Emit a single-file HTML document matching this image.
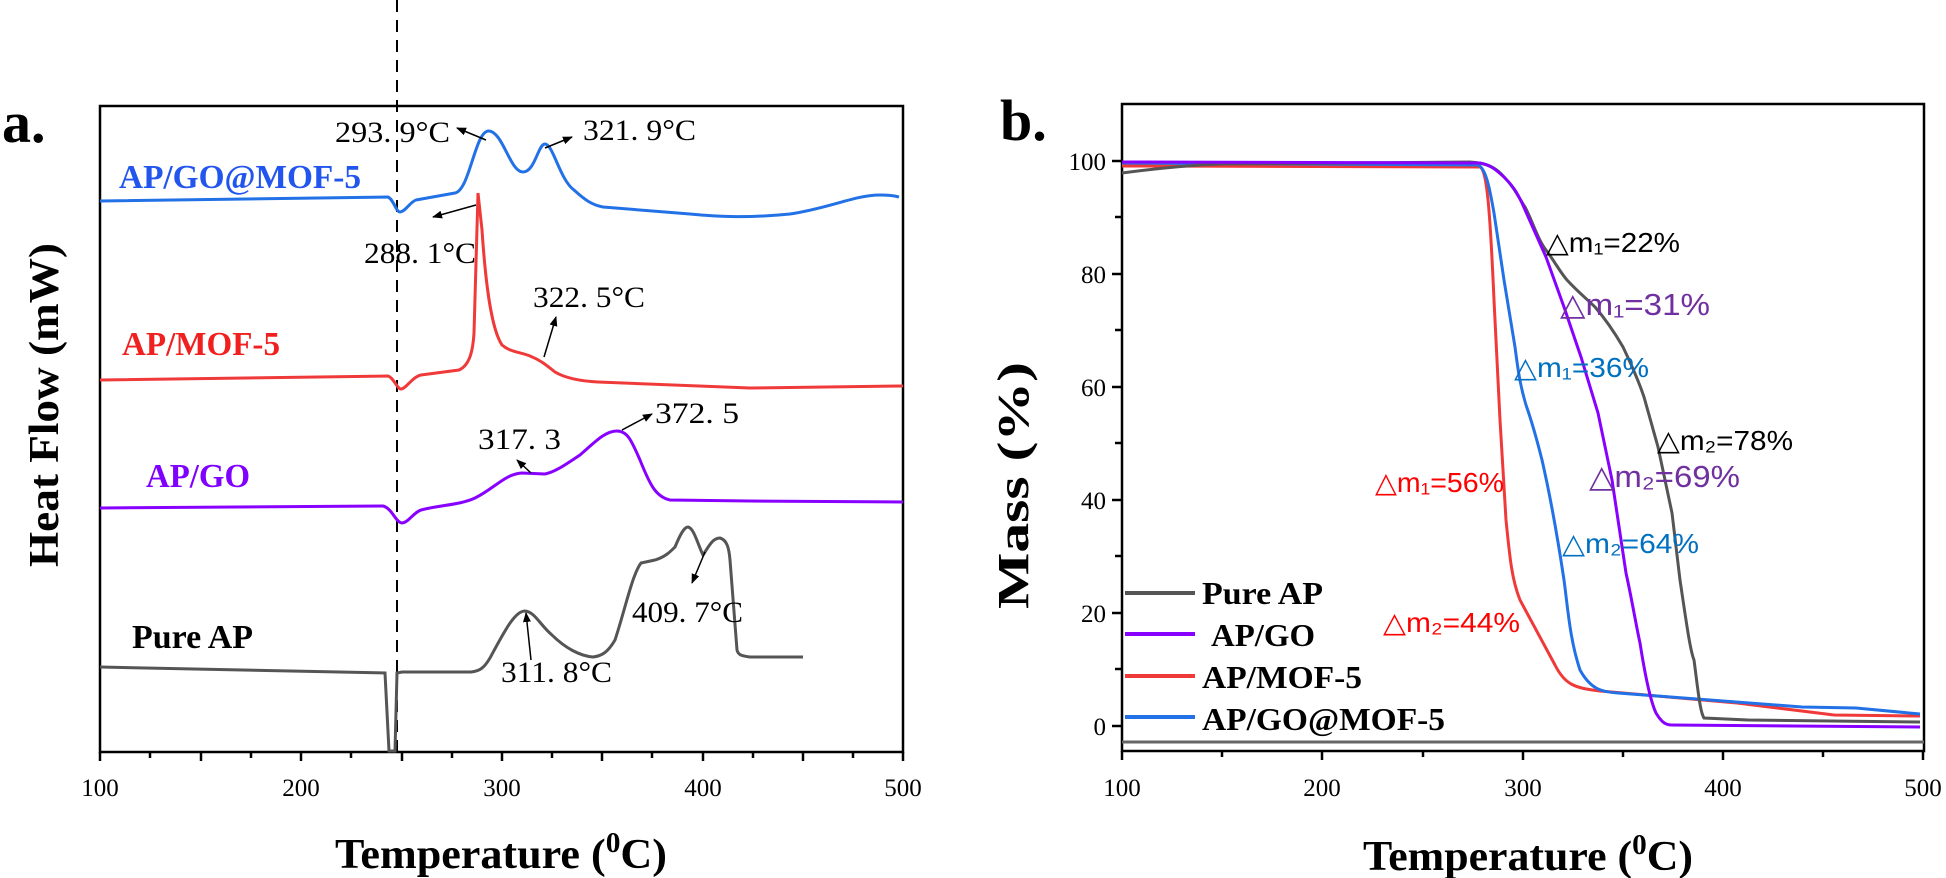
<!DOCTYPE html>
<html><head><meta charset="utf-8"><style>
html,body{margin:0;padding:0;background:#fff;}
svg{display:block;}
.t{font-family:"Liberation Serif",serif;}
.s{font-family:"Liberation Sans","DejaVu Sans",sans-serif;}
</style></head><body>
<svg width="1946" height="878" viewBox="0 0 1946 878" xmlns="http://www.w3.org/2000/svg">
<defs>
<marker id="ar" markerWidth="10" markerHeight="8" refX="9" refY="4" orient="auto" markerUnits="userSpaceOnUse">
<path d="M0,0 L10,4 L0,8 Z" fill="#000"/></marker>
</defs>
<rect width="1946" height="878" fill="#fff"/>

<!-- ===== LEFT PANEL ===== -->
<text class="t" x="2" y="142" font-size="58" font-weight="bold">a.</text>
<rect x="100" y="106" width="803" height="646" fill="none" stroke="#000" stroke-width="2.5"/>
<g stroke="#000" stroke-width="2.5">
<line x1="100" y1="752" x2="100" y2="761"/><line x1="150" y1="752" x2="150" y2="758"/>
<line x1="201" y1="752" x2="201" y2="761"/><line x1="251" y1="752" x2="251" y2="758"/>
<line x1="301" y1="752" x2="301" y2="761"/><line x1="351" y1="752" x2="351" y2="758"/>
<line x1="402" y1="752" x2="402" y2="761"/><line x1="452" y1="752" x2="452" y2="758"/>
<line x1="502" y1="752" x2="502" y2="761"/><line x1="552" y1="752" x2="552" y2="758"/>
<line x1="602" y1="752" x2="602" y2="761"/><line x1="652" y1="752" x2="652" y2="758"/>
<line x1="703" y1="752" x2="703" y2="761"/><line x1="753" y1="752" x2="753" y2="758"/>
<line x1="803" y1="752" x2="803" y2="761"/><line x1="853" y1="752" x2="853" y2="758"/>
<line x1="903" y1="752" x2="903" y2="761"/>
</g>
<g class="t" font-size="25" text-anchor="middle">
<text x="100" y="796">100</text><text x="301" y="796">200</text><text x="502" y="796">300</text><text x="703" y="796">400</text><text x="903" y="796">500</text>
</g>
<text class="t" x="335" y="868" font-size="42" font-weight="bold" textLength="332" lengthAdjust="spacingAndGlyphs">Temperature (<tspan font-size="28" dy="-16">0</tspan><tspan dy="16">C)</tspan></text>
<text class="t" font-size="42" font-weight="bold" transform="translate(58,567) rotate(-90)" textLength="324" lengthAdjust="spacingAndGlyphs">Heat Flow (mW)</text>

<line x1="397" y1="0" x2="397" y2="752" stroke="#000" stroke-width="2" stroke-dasharray="12,8"/>

<!-- curves -->
<path d="M100,201 L388,197 C394,200 396,212 400,212 C405,212 410,202 416,200 L455,193 C470,190 475,130 489,131 C503,132 510,172 523,172 C535,172 538,144 545,144 C553,144 560,180 574,190 C585,200 592,205 603,207 L690,214 C720,217 750,218 790,214 C830,208 855,195 880,195 C892,195 899,197 899,197" fill="none" stroke="#2271e6" stroke-width="3"/>
<path d="M100,380 L388,376 C394,378 397,389 401,389 C406,389 412,377 421,375 L459,370 C470,365 473,350 474,333 L478,193 L482,230 C486,290 492,330 502,345 C510,352 520,352 530,356 C540,360 545,364 555,372 C565,378 580,381 598,382 L750,388 L903,386" fill="none" stroke="#f03a3a" stroke-width="3"/>
<path d="M100,508 L383,506 C392,508 396,523 402,523 C408,523 414,512 421,510 C440,505 460,505 475,498 C495,488 505,474 522,473 L545,474 C555,472 565,465 580,455 C595,442 605,431 617,431 C628,431 632,442 640,460 C650,485 656,497 670,500 L750,501 L903,502" fill="none" stroke="#8800ff" stroke-width="3"/>
<path d="M100,667 L385,673 L389,751 L395,751 L397,673 L402,672 L471,672 C480,671 484,668 490,658 C505,630 515,611 525,611 C535,612 540,625 552,635 C565,648 580,656 593,657 C602,656 608,652 615,640 C625,610 632,575 641,563 L655,560 C665,557 670,552 675,547 C680,535 684,527 688,527 C694,528 698,545 703,555 C708,548 712,538 720,538 C727,540 729,548 730,560 L737,650 C738,655 742,656 750,657 L803,657" fill="none" stroke="#555" stroke-width="3"/>

<!-- left labels -->
<g class="t" font-weight="bold" font-size="34">
<text x="119" y="188" fill="#2255ee" textLength="242" lengthAdjust="spacingAndGlyphs">AP/GO@MOF-5</text>
<text x="122" y="355" fill="#f02020" textLength="158" lengthAdjust="spacingAndGlyphs">AP/MOF-5</text>
<text x="146" y="487" fill="#8000ff" textLength="104" lengthAdjust="spacingAndGlyphs">AP/GO</text>
<text x="132" y="648" fill="#000" textLength="121" lengthAdjust="spacingAndGlyphs">Pure AP</text>
</g>
<g class="t" font-size="30" fill="#000">
<text x="335" y="142" textLength="115" lengthAdjust="spacingAndGlyphs">293. 9°C</text>
<text x="583" y="140" textLength="113" lengthAdjust="spacingAndGlyphs">321. 9°C</text>
<text x="364" y="263" textLength="112" lengthAdjust="spacingAndGlyphs">288. 1°C</text>
<text x="533" y="307" textLength="112" lengthAdjust="spacingAndGlyphs">322. 5°C</text>
<text x="478" y="449" textLength="83" lengthAdjust="spacingAndGlyphs">317. 3</text>
<text x="655" y="423" textLength="84" lengthAdjust="spacingAndGlyphs">372. 5</text>
<text x="632" y="622" textLength="111" lengthAdjust="spacingAndGlyphs">409. 7°C</text>
<text x="501" y="682" textLength="111" lengthAdjust="spacingAndGlyphs">311. 8°C</text>
</g>
<g stroke="#000" stroke-width="1.5" marker-end="url(#ar)">
<line x1="486" y1="140" x2="457" y2="128"/>
<line x1="545" y1="148" x2="572" y2="137"/>
<line x1="476" y1="205" x2="433" y2="217"/>
<line x1="544" y1="357" x2="556" y2="317"/>
<line x1="531" y1="473" x2="517" y2="460"/>
<line x1="622" y1="430" x2="652" y2="414"/>
<line x1="705" y1="552" x2="692" y2="583"/>
<line x1="531" y1="660" x2="526" y2="613"/>
</g>

<!-- ===== RIGHT PANEL ===== -->
<text class="t" x="1000" y="140" font-size="58" font-weight="bold">b.</text>
<rect x="1122" y="104" width="802" height="647" fill="none" stroke="#000" stroke-width="2.5"/>
<g stroke="#000" stroke-width="2.5">
<line x1="1112" y1="161" x2="1122" y2="161"/><line x1="1115" y1="217" x2="1122" y2="217"/>
<line x1="1112" y1="274" x2="1122" y2="274"/><line x1="1115" y1="330" x2="1122" y2="330"/>
<line x1="1112" y1="387" x2="1122" y2="387"/><line x1="1115" y1="443" x2="1122" y2="443"/>
<line x1="1112" y1="500" x2="1122" y2="500"/><line x1="1115" y1="556" x2="1122" y2="556"/>
<line x1="1112" y1="613" x2="1122" y2="613"/><line x1="1115" y1="669" x2="1122" y2="669"/>
<line x1="1112" y1="726" x2="1122" y2="726"/>
<line x1="1122" y1="751" x2="1122" y2="760"/><line x1="1222" y1="751" x2="1222" y2="757"/>
<line x1="1322" y1="751" x2="1322" y2="760"/><line x1="1423" y1="751" x2="1423" y2="757"/>
<line x1="1523" y1="751" x2="1523" y2="760"/><line x1="1623" y1="751" x2="1623" y2="757"/>
<line x1="1723" y1="751" x2="1723" y2="760"/><line x1="1823" y1="751" x2="1823" y2="757"/>
<line x1="1923" y1="751" x2="1923" y2="760"/>
</g>
<g class="t" font-size="25" text-anchor="end">
<text x="1106" y="170">100</text><text x="1106" y="283">80</text><text x="1106" y="396">60</text><text x="1106" y="509">40</text><text x="1106" y="622">20</text><text x="1106" y="735">0</text>
</g>
<g class="t" font-size="25" text-anchor="middle">
<text x="1122" y="796">100</text><text x="1322" y="796">200</text><text x="1523" y="796">300</text><text x="1723" y="796">400</text><text x="1923" y="796">500</text>
</g>
<text class="t" x="1363" y="870" font-size="42" font-weight="bold" textLength="330" lengthAdjust="spacingAndGlyphs">Temperature (<tspan font-size="28" dy="-16">0</tspan><tspan dy="16">C)</tspan></text>
<text class="t" font-size="44" font-weight="bold" transform="translate(1028,609) rotate(-90)" textLength="247" lengthAdjust="spacingAndGlyphs">Mass (%)</text>

<line x1="1122" y1="742" x2="1924" y2="742" stroke="#666" stroke-width="3"/>

<path d="M1122,166 L1480,167 C1487,170 1490,210 1494,300 L1500,420 L1506,520 C1510,560 1512,580 1520,600 L1555,665 C1565,685 1575,688 1600,691 L1737,703 L1834,715 L1920,716" fill="none" stroke="#f03a3a" stroke-width="3"/>
<path d="M1122,163 L1478,165 C1486,168 1490,190 1494,213 L1504,280 L1515,347 C1518,370 1520,385 1526,405 C1533,425 1537,440 1542,460 C1550,495 1558,540 1564,580 C1568,610 1570,640 1580,670 C1590,688 1600,692 1618,693 L1802,707 L1856,708 L1920,714" fill="none" stroke="#2271e6" stroke-width="3"/>
<path d="M1122,173 C1160,168 1190,165 1222,164 L1470,162 C1490,163 1498,170 1504,177 C1515,188 1520,200 1525,207 C1532,220 1538,240 1546,250 C1555,262 1560,272 1567,280 C1578,292 1588,300 1595,307 C1608,322 1616,335 1623,347 C1633,368 1640,385 1644,397 C1650,418 1654,433 1658,447 L1672,513 L1680,580 C1686,620 1690,650 1694,660 C1698,690 1700,712 1704,718 L1748,720 L1920,722" fill="none" stroke="#555" stroke-width="3"/>
<path d="M1122,162 L1480,163 C1492,165 1498,172 1504,177 C1515,188 1518,195 1522,203 L1546,257 L1564,307 L1581,357 L1598,413 L1612,480 L1626,573 C1632,600 1636,625 1640,643 C1645,675 1650,700 1656,713 C1662,723 1666,725 1672,725 L1920,727" fill="none" stroke="#8800ff" stroke-width="3"/>

<!-- legend -->
<g stroke-width="4">
<line x1="1125" y1="593" x2="1195" y2="593" stroke="#555"/>
<line x1="1125" y1="634" x2="1195" y2="634" stroke="#8800ff"/>
<line x1="1125" y1="676" x2="1195" y2="676" stroke="#f03a3a"/>
<line x1="1125" y1="717" x2="1195" y2="717" stroke="#2271e6"/>
</g>
<g class="t" font-size="32" font-weight="bold">
<text x="1202" y="604" textLength="121" lengthAdjust="spacingAndGlyphs">Pure AP</text>
<text x="1211" y="646" textLength="104" lengthAdjust="spacingAndGlyphs">AP/GO</text>
<text x="1202" y="688" textLength="160" lengthAdjust="spacingAndGlyphs">AP/MOF-5</text>
<text x="1202" y="730" textLength="243" lengthAdjust="spacingAndGlyphs">AP/GO@MOF-5</text>
</g>

<!-- mass loss annotations -->
<g class="s">
<text x="1546" y="252" font-size="28" fill="#000" textLength="134" lengthAdjust="spacingAndGlyphs">△m₁=22%</text>
<text x="1560" y="315" font-size="31" fill="#7030a0" textLength="150" lengthAdjust="spacingAndGlyphs">△m₁=31%</text>
<text x="1514" y="377" font-size="28" fill="#0070c0" textLength="135" lengthAdjust="spacingAndGlyphs">△m₁=36%</text>
<text x="1657" y="450" font-size="28" fill="#000" textLength="136" lengthAdjust="spacingAndGlyphs">△m₂=78%</text>
<text x="1589" y="487" font-size="31" fill="#7030a0" textLength="151" lengthAdjust="spacingAndGlyphs">△m₂=69%</text>
<text x="1562" y="553" font-size="28" fill="#0070c0" textLength="137" lengthAdjust="spacingAndGlyphs">△m₂=64%</text>
<text x="1375" y="492" font-size="28" fill="#ff0000" textLength="129" lengthAdjust="spacingAndGlyphs">△m₁=56%</text>
<text x="1383" y="632" font-size="28" fill="#ff0000" textLength="137" lengthAdjust="spacingAndGlyphs">△m₂=44%</text>
</g>
</svg>
</body></html>
